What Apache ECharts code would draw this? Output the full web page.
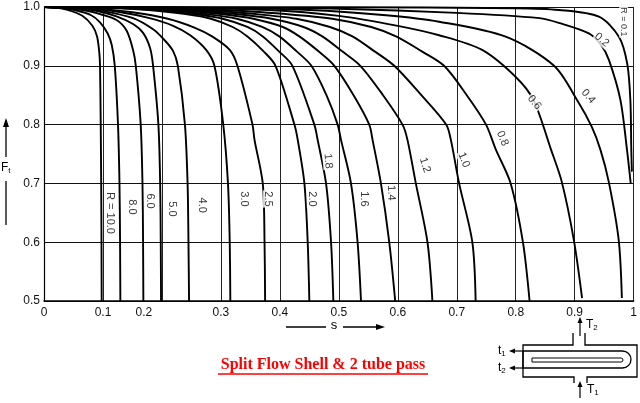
<!DOCTYPE html>
<html><head><meta charset="utf-8">
<script src="https://cdn.jsdelivr.net/npm/echarts@6.0.0/dist/echarts.min.js"></script>
<style>html,body{margin:0;padding:0;background:#fff}#c{width:640px;height:403px}</style>
</head><body><div id="c"></div>
<script>
// ---- data ----
const xTickLabels = ['0','0.1','0.2','0.3','0.4','0.5','0.6','0.7','0.8','0.9','1'];
const yTickLabels = ['0.5','0.6','0.7','0.8','0.9','1.0'];
const rNames = ['10.0','8.0','6.0','5.0','4.0','3.0','2.5','2.0','1.8','1.6','1.4','1.2','1.0','0.8','0.6','0.4','0.2','0.1'];

const curveR10_0 = [[0,1],[0.02,0.999],[0.04,0.995],[0.065,0.985],[0.082,0.968],[0.09,0.95],[0.094,0.92],[0.095,0.9],[0.0962,0.8],[0.097,0.7],[0.0975,0.6],[0.0978,0.5]];
const curveR8_0 = [[0,1],[0.03,0.998],[0.055,0.994],[0.08,0.986],[0.095,0.974],[0.108,0.955],[0.115,0.935],[0.12,0.9],[0.1255,0.8],[0.128,0.7],[0.129,0.6],[0.1295,0.5]];
const curveR6_0 = [[0,1],[0.04,0.998],[0.07,0.994],[0.095,0.988],[0.123,0.978],[0.14,0.96],[0.151,0.927],[0.1557,0.9],[0.164,0.8],[0.167,0.7],[0.168,0.6],[0.1685,0.5]];
const curveR5_0 = [[0,1],[0.05,0.998],[0.09,0.993],[0.123,0.984],[0.151,0.971],[0.168,0.956],[0.18,0.93],[0.185,0.9],[0.194,0.8],[0.197,0.7],[0.198,0.6],[0.1985,0.5]];
const curveR4_0 = [[0,1],[0.06,0.998],[0.1,0.993],[0.151,0.981],[0.185,0.962],[0.205,0.943],[0.219,0.925],[0.227,0.9],[0.239,0.8],[0.2435,0.7],[0.245,0.6],[0.246,0.5]];
const curveR3_0 = [[0,1],[0.07,0.998],[0.13,0.991],[0.179,0.981],[0.219,0.968],[0.248,0.952],[0.275,0.927],[0.289,0.9],[0.304,0.8],[0.312,0.7],[0.315,0.6],[0.316,0.5]];
const curveR2_5 = [[0,1],[0.08,0.998],[0.15,0.991],[0.21,0.98],[0.255,0.965],[0.285,0.95],[0.315,0.927],[0.328,0.9],[0.3536,0.8],[0.357,0.774],[0.371,0.7],[0.374,0.6],[0.375,0.5]];
const curveR2_0 = [[0,1],[0.09,0.999],[0.177,0.995],[0.24,0.988],[0.283,0.98],[0.32,0.966],[0.345,0.95],[0.372,0.925],[0.3926,0.9],[0.4247,0.8],[0.4303,0.774],[0.4416,0.7],[0.4472,0.6],[0.45,0.5]];
const curveR1_8 = [[0,1],[0.1,0.999],[0.19,0.995],[0.255,0.988],[0.303,0.98],[0.345,0.966],[0.371,0.95],[0.398,0.925],[0.4213,0.9],[0.4585,0.8],[0.4641,0.774],[0.4783,0.7],[0.4868,0.6],[0.4907,0.5]];
const curveR1_6 = [[0,1],[0.1,0.999],[0.204,0.995],[0.275,0.988],[0.327,0.98],[0.37,0.966],[0.399,0.95],[0.428,0.925],[0.4535,0.9],[0.479,0.85],[0.498,0.8],[0.5037,0.774],[0.5206,0.7],[0.5318,0.6],[0.5376,0.5]];
const curveR1_4 = [[0,1],[0.11,0.999],[0.222,0.995],[0.3,0.988],[0.355,0.98],[0.405,0.966],[0.433,0.95],[0.465,0.925],[0.4924,0.9],[0.525,0.85],[0.5516,0.8],[0.5572,0.774],[0.5714,0.7],[0.5855,0.6],[0.5956,0.5]];
const curveR1_2 = [[0,1],[0.12,0.999],[0.241,0.995],[0.325,0.988],[0.386,0.98],[0.44,0.966],[0.472,0.95],[0.505,0.925],[0.5364,0.9],[0.575,0.85],[0.608,0.8],[0.6164,0.774],[0.6306,0.7],[0.6503,0.6],[0.6587,0.5]];
const curveR1_0 = [[0,1],[0.13,0.999],[0.267,0.995],[0.36,0.988],[0.428,0.98],[0.485,0.966],[0.523,0.95],[0.56,0.925],[0.594,0.9],[0.64,0.85],[0.682,0.8],[0.69,0.774],[0.704,0.7],[0.7264,0.6],[0.732,0.5]];
const curveR0_8 = [[0,1],[0.15,0.999],[0.305,0.995],[0.41,0.988],[0.489,0.98],[0.555,0.966],[0.597,0.95],[0.64,0.925],[0.6785,0.9],[0.717,0.85],[0.7496,0.8],[0.7665,0.757],[0.7914,0.7],[0.8122,0.6],[0.8235,0.5]];
const curveR0_6 = [[0,1],[0.2,0.999],[0.38,0.995],[0.5,0.985],[0.6,0.968],[0.67,0.952],[0.743,0.927],[0.8,0.881],[0.83,0.842],[0.86,0.757],[0.878,0.703],[0.8985,0.604],[0.9125,0.505]];
const curveR0_4 = [[0,1],[0.25,0.999],[0.45,0.995],[0.58,0.986],[0.67,0.975],[0.783,0.9495],[0.865,0.9],[0.905,0.84],[0.929,0.796],[0.9437,0.757],[0.9577,0.703],[0.9746,0.604],[0.98,0.505]];
const curveR0_2 = [[0,1],[0.3,0.999],[0.5,0.997],[0.7,0.99],[0.84,0.981],[0.873,0.973],[0.924,0.955],[0.945,0.935],[0.958,0.91],[0.9775,0.842],[0.9887,0.757],[0.995,0.70]];
const curveR0_1 = [[0,1],[0.5,0.9995],[0.8,0.998],[0.873,0.995],[0.941,0.9835],[0.975,0.9495],[0.989,0.904],[0.9944,0.842],[0.996,0.757],[0.997,0.72]];

// curve labels: text, s, Ft, rotation (deg)
const labelTexts = ['R = 10.0','8.0','6.0','5.0','4.0','3.0','2.5','2.0','1.8','1.6','1.4','1.2','1.0','0.8','0.6','0.4','0.2','R = 0.1'];
const labelS = [0.1117,0.1497,0.180,0.2174,0.268,0.3384,0.3807,0.455,0.482,0.543,0.589,0.646,0.712,0.7775,0.8316,0.923,0.946,0.983];
const labelF = [0.6497,0.660,0.670,0.6565,0.663,0.6735,0.6735,0.6735,0.738,0.6735,0.684,0.731,0.740,0.7764,0.8376,0.848,0.944,0.9745];
const labelRot = [-90,-90,-90,-90,-90,-90,-90,-90,-85,-90,-88,-72,-68,-68,-50,-50,-40,-90];

const titleText = 'Split Flow Shell & 2 tube pass';

// ---- chart ----
const curveData = [curveR10_0,curveR8_0,curveR6_0,curveR5_0,curveR4_0,curveR3_0,curveR2_5,curveR2_0,curveR1_8,curveR1_6,curveR1_4,curveR1_2,curveR1_0,curveR0_8,curveR0_6,curveR0_4,curveR0_2,curveR0_1];

const series = curveData.map((d, i) => ({
  name: 'R=' + rNames[i], type: 'line', data: d, showSymbol: false, symbol: 'none',
  smooth: 0.3, clip: true, silent: true,
  lineStyle: { color: '#000', width: 1.9 }, z: 3
}));

series.push({
  type: 'scatter', symbolSize: 0, silent: true, z: 5,
  data: labelTexts.map((t, i) => ({
    value: [labelS[i], labelF[i]],
    label: { show: true, position: 'inside', formatter: t, rotate: labelRot[i],
      fontSize: i === 17 ? 9 : 11, color: '#000', fontFamily: 'Liberation Sans, Arial, sans-serif',
      backgroundColor: '#fff', padding: [0, 1] }
  }))
});

const chart = echarts.init(document.getElementById('c'), null, { renderer: 'canvas' });
const AX = '#111';
const FONT = 'Liberation Sans, Arial, sans-serif';
chart.setOption({
  animation: false,
  backgroundColor: '#fff',
  grid: { left: 44, right: 5, top: 7, bottom: 102, containLabel: false },
  xAxis: {
    type: 'value', min: 0, max: 1, interval: 0.1,
    axisLine: { show: true, lineStyle: { color: '#000', width: 1.5 } },
    axisTick: { show: false },
    splitLine: { show: true, lineStyle: { color: '#222', width: 1 } },
    axisLabel: {
      margin: 6, color: AX, fontSize: 12, fontFamily: FONT,
      formatter: (v) => {
        const idx = Math.round(v * 10);
        const t = xTickLabels[idx];
        return idx === 2 ? '{sh|' + t + '}' : t;
      },
      rich: { sh: { fontSize: 12, color: AX, padding: [0, 36, 0, 0], fontFamily: FONT } }
    }
  },
  yAxis: {
    type: 'value', min: 0.5, max: 1.0, interval: 0.1,
    axisLine: { show: true, lineStyle: { color: '#000', width: 1.2 } },
    axisTick: { show: false },
    splitLine: { show: true, lineStyle: { color: '#111', width: 1 } },
    axisLabel: {
      margin: 4, color: AX, fontSize: 12, fontFamily: FONT,
      formatter: (v) => yTickLabels[Math.round((v - 0.5) * 10)]
    }
  },
  series: series,
  graphic: [
    // F_t axis name with arrow
    { type: 'line', shape: { x1: 6, y1: 157, x2: 6, y2: 124 }, style: { stroke: '#000', lineWidth: 1.3 } },
    { type: 'polygon', shape: { points: [[3, 127], [6, 118], [9, 127]] }, style: { fill: '#000' } },
    { type: 'text', style: { x: 1, y: 168, text: '{f|F}{t|t}', textVerticalAlign: 'middle',
        rich: { f: { fontSize: 12, fill: '#000', fontFamily: FONT },
                t: { fontSize: 8, fill: '#000', padding: [6, 0, 0, 0], fontFamily: FONT } } } },
    { type: 'line', shape: { x1: 6, y1: 181, x2: 6, y2: 225 }, style: { stroke: '#000', lineWidth: 1.3 } },
    // s axis name
    { type: 'line', shape: { x1: 286, y1: 327, x2: 326, y2: 327 }, style: { stroke: '#000', lineWidth: 1.3 } },
    { type: 'text', style: { x: 334, y: 325, text: 's', textAlign: 'center', textVerticalAlign: 'middle', fontSize: 13, fill: '#000', fontFamily: FONT } },
    { type: 'line', shape: { x1: 343, y1: 327, x2: 378, y2: 327 }, style: { stroke: '#000', lineWidth: 1.3 } },
    { type: 'polygon', shape: { points: [[376, 324], [385, 327], [376, 330]] }, style: { fill: '#000' } },
    // title
    { type: 'text', style: { x: 323, y: 365, text: titleText, textAlign: 'center', textVerticalAlign: 'middle',
        fill: '#ff0000', font: 'bold 16px "Liberation Serif", "Times New Roman", serif' } },
    { type: 'line', shape: { x1: 218, y1: 374, x2: 428, y2: 374 }, style: { stroke: '#ff0000', lineWidth: 1.3 } },
    // shell diagram
    { type: 'polyline', shape: { points: [[573, 333], [573, 345], [523, 345], [523, 377], [574, 377], [574, 383]] }, style: { stroke: '#000', lineWidth: 1.3, fill: null } },
    { type: 'polyline', shape: { points: [[585, 333], [585, 345], [637, 345], [637, 377], [587, 377], [587, 383]] }, style: { stroke: '#000', lineWidth: 1.3, fill: null } },
    { type: 'rect', shape: { x: 523, y: 351, width: 108, height: 17, r: [0, 8.5, 8.5, 0] }, style: { stroke: '#000', lineWidth: 1.3, fill: null } },
    { type: 'rect', shape: { x: 532, y: 358, width: 91, height: 4, r: [0, 2, 2, 0] }, style: { stroke: '#000', lineWidth: 1, fill: null } },
    // tube-side arrows
    { type: 'line', shape: { x1: 523, y1: 351, x2: 514, y2: 351 }, style: { stroke: '#000', lineWidth: 1.2 } },
    { type: 'polygon', shape: { points: [[515, 348.5], [509, 351], [515, 353.5]] }, style: { fill: '#000' } },
    { type: 'line', shape: { x1: 523, y1: 368, x2: 514, y2: 368 }, style: { stroke: '#000', lineWidth: 1.2 } },
    { type: 'polygon', shape: { points: [[515, 365.5], [509, 368], [515, 370.5]] }, style: { fill: '#000' } },
    { type: 'text', style: { x: 498, y: 351, text: '{a|t}{b|1}', textVerticalAlign: 'middle',
        rich: { a: { fontSize: 12, fill: '#000', fontFamily: FONT }, b: { fontSize: 8, fill: '#000', padding: [5, 0, 0, 0], fontFamily: FONT } } } },
    { type: 'text', style: { x: 498, y: 368, text: '{a|t}{b|2}', textVerticalAlign: 'middle',
        rich: { a: { fontSize: 12, fill: '#000', fontFamily: FONT }, b: { fontSize: 8, fill: '#000', padding: [5, 0, 0, 0], fontFamily: FONT } } } },
    // shell-side arrows
    { type: 'line', shape: { x1: 580, y1: 336, x2: 580, y2: 322 }, style: { stroke: '#000', lineWidth: 1.2 } },
    { type: 'polygon', shape: { points: [[577.5, 323], [580, 317], [582.5, 323]] }, style: { fill: '#000' } },
    { type: 'line', shape: { x1: 580, y1: 398, x2: 580, y2: 386 }, style: { stroke: '#000', lineWidth: 1.2 } },
    { type: 'polygon', shape: { points: [[577.5, 387], [580, 381], [582.5, 387]] }, style: { fill: '#000' } },
    { type: 'text', style: { x: 586, y: 325, text: '{a|T}{b|2}', textVerticalAlign: 'middle',
        rich: { a: { fontSize: 12, fill: '#000', fontFamily: FONT }, b: { fontSize: 8, fill: '#000', padding: [5, 0, 0, 0], fontFamily: FONT } } } },
    { type: 'text', style: { x: 587, y: 390, text: '{a|T}{b|1}', textVerticalAlign: 'middle',
        rich: { a: { fontSize: 12, fill: '#000', fontFamily: FONT }, b: { fontSize: 8, fill: '#000', padding: [5, 0, 0, 0], fontFamily: FONT } } } }
  ]
});
</script>
</body></html>
